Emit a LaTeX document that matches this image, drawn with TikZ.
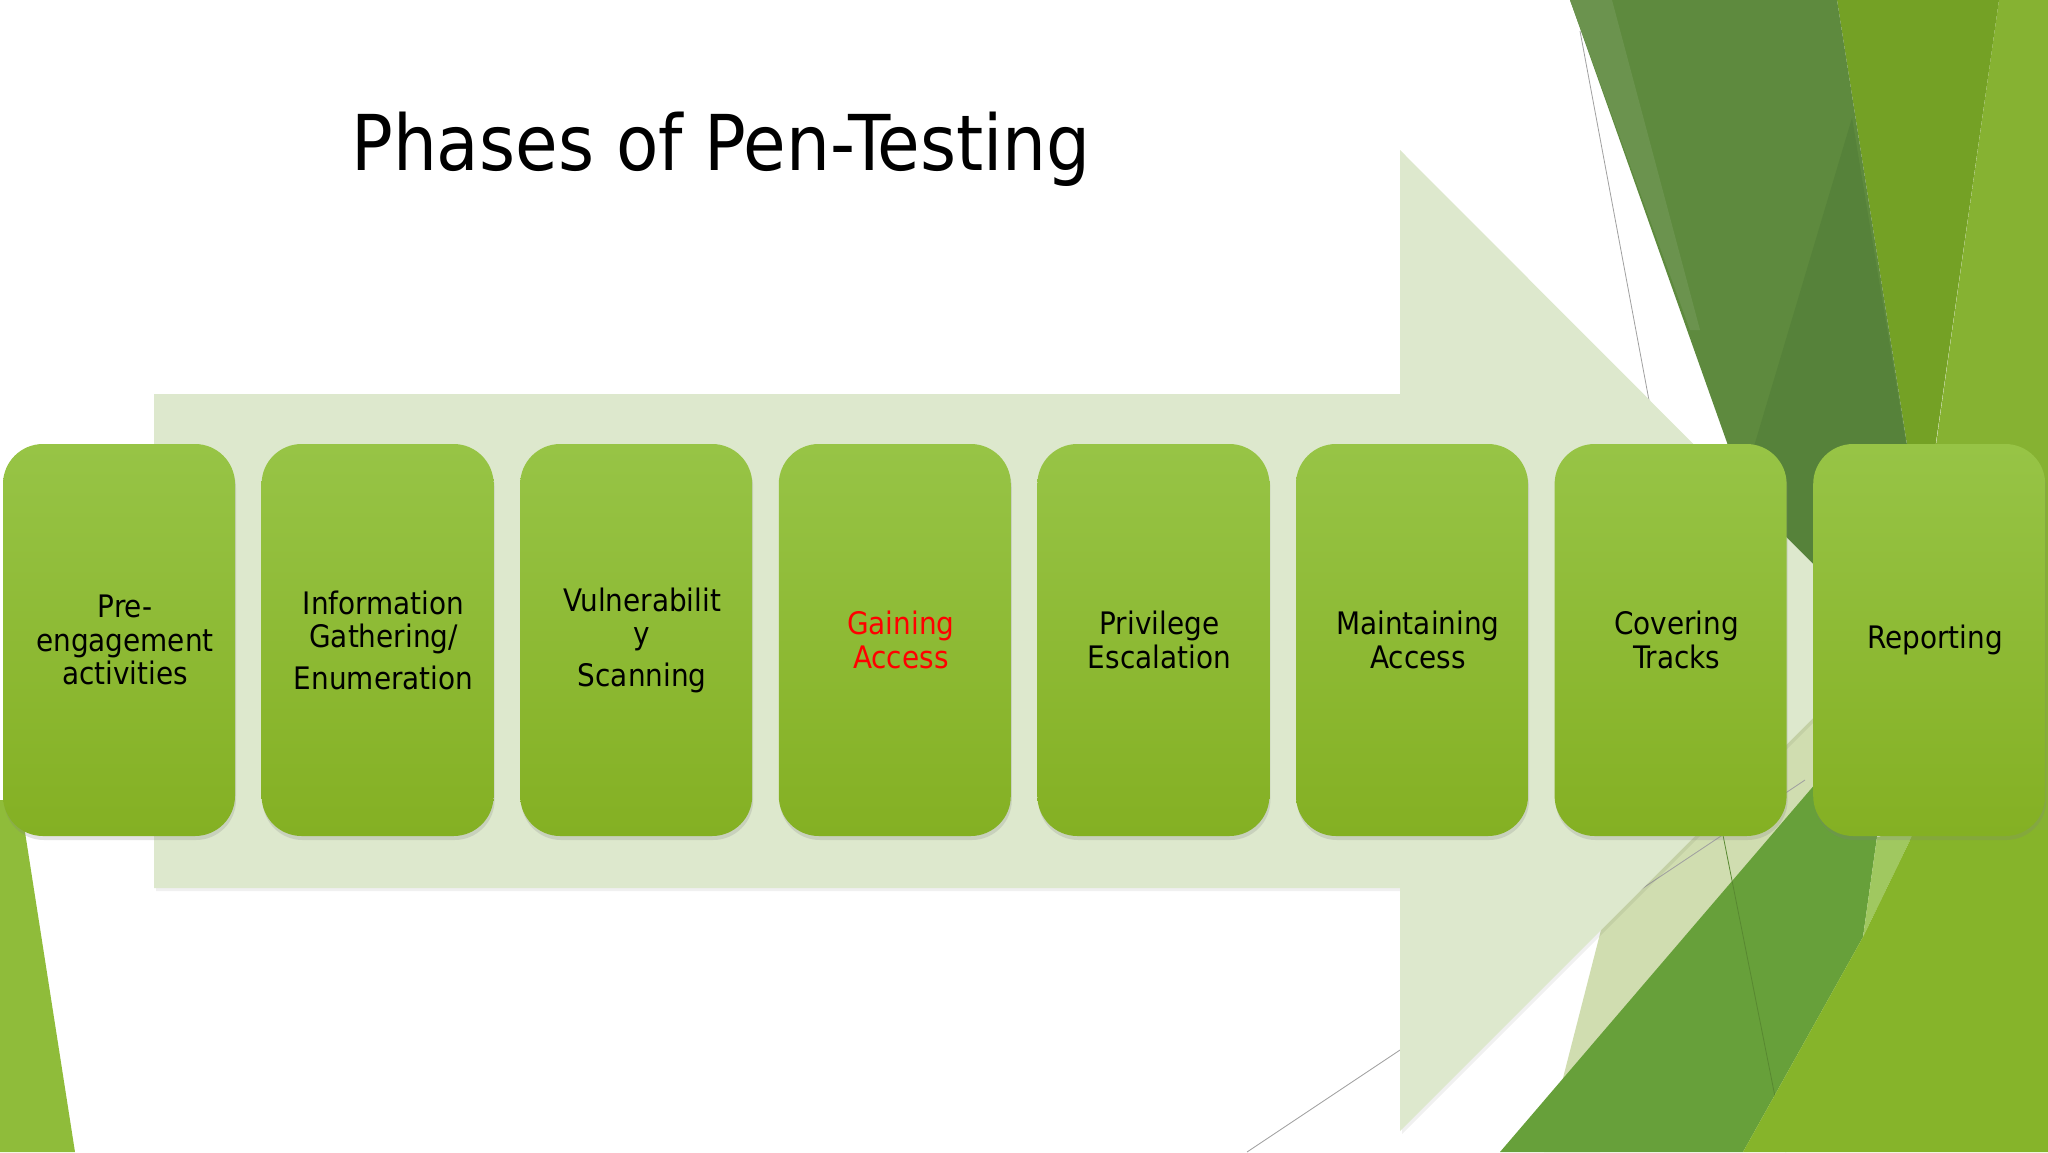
\documentclass[tikz,border=0pt]{standalone}
\usepackage{fontspec}
\setmainfont{DejaVu Sans Condensed}
\usetikzlibrary{shadows}
\definecolor{palearrow}{HTML}{DDE8CD}
\definecolor{darkg}{HTML}{5E8A3E}
\definecolor{darkerg}{HTML}{56823A}
\definecolor{oliveg}{HTML}{74A125}
\definecolor{lightr}{HTML}{86B232}
\definecolor{medg}{HTML}{67A03A}
\definecolor{brightg}{HTML}{86B42A}
\definecolor{paleolive}{HTML}{D0DDB0}
\definecolor{sliverg}{HTML}{A0C860}
\definecolor{leftg}{HTML}{8FBC3A}
\definecolor{boxtop}{HTML}{97C446}
\definecolor{boxbot}{HTML}{84B023}
\definecolor{thinl}{HTML}{A0A0A0}
\tikzset{
  phase/.style={rounded corners=40, minimum width=232, minimum height=392,
    top color=boxtop, bottom color=boxbot, inner sep=0pt,
    drop shadow={opacity=0.22, shadow xshift=1pt, shadow yshift=-4pt}},
  phasetext/.style={align=center, inner sep=0pt, xshift=6pt,
    font=\fontsize{31}{33.5}\selectfont, text=black},
  deco/.style={line width=0.8pt, draw=thinl}
}
\begin{document}
\begin{tikzpicture}[x=1pt,y=-1pt]
\useasboundingbox (0,0) rectangle (2048,1152);
\fill[white] (0,0) rectangle (2048,1152);
% top-right decoration
\fill[lightr] (1999,0) -- (2048,0) -- (2048,840) -- (1880,840) -- cycle;
\fill[oliveg] (1837,0) -- (1999,0) -- (1922,540) -- cycle;
\fill[darkg] (1570,0) -- (1837,0) -- (1922,540) -- (1870,660) -- (1797,640) -- cycle;
\fill[darkg!92!white] (1570,0) -- (1612,0) -- (1700,330) -- (1690,330) -- cycle;
\fill[darkerg] (1852,118) -- (1922,540) -- (1870,660) -- (1797,640) -- (1735,510) -- cycle;
\coordinate (tl1) at (1580,31);
\coordinate (tl2) at (1662,470);
\draw[deco] (tl1) -- (tl2);
% bottom-right decoration
\fill[paleolive] (1660,700) -- (1900,700) -- (1600,1152) -- (1544,1152) -- cycle;
\coordinate (bl1) at (1247,1152);
\coordinate (bl2) at (1805,780);
\draw[deco] (bl1) -- (bl2);
\fill[medg] (1500,1152) -- (1870,720) -- (1890,720) -- (1877,837) -- (1863,937) -- (1743,1152) -- cycle;
\coordinate (vl1) at (1716,800);
\coordinate (vl2) at (1786,1152);
\draw[line width=0.8pt, draw=medg!85!black] (vl1) -- (vl2);
\fill[sliverg] (1877,837) -- (1915,830) -- (1863,937) -- cycle;
\fill[brightg] (1743,1152) -- (1863,937) -- (1915,830) -- (2048,830) -- (2048,1152) -- cycle;
% left sliver
\fill[leftg] (0,800) -- (20,800) -- (75,1152) -- (0,1152) -- cycle;
% big arrow
\fill[black, opacity=0.06] (156,397) -- (1402,397) -- (1402,153) -- (1892,644) -- (1402,1134) -- (1402,891) -- (156,891) -- cycle;
\fill[palearrow] (154,394) -- (1400,394) -- (1400,150) -- (1890,641) -- (1400,1131) -- (1400,888) -- (154,888) -- cycle;
% title
\node[font=\fontsize{77}{92}\selectfont, anchor=base] (title) at (721,170) {Phases of Pen-Testing};
% phase boxes
\node[phase] (p1) at (119,640) {};
\node[phase] (p2) at (377.6,640) {};
\node[phase] (p3) at (636.2,640) {};
\node[phase] (p4) at (894.8,640) {};
\node[phase] (p5) at (1153.4,640) {};
\node[phase] (p6) at (1412,640) {};
\node[phase] (p7) at (1670.6,640) {};
\node[phase] (p8) at (1929.2,640) {};
% phase texts
\node[phasetext] (t1) at (p1.center) {Pre-\\engagement\\activities};
\node[phasetext] (t2) at (p2.center) {Information\\Gathering/\\[8pt]Enumeration};
\node[phasetext] (t3) at (p3.center) {Vulnerabilit\\y\\[8pt]Scanning};
\node[phasetext, text=red] (t4) at (p4.center) {Gaining\\Access};
\node[phasetext] (t5) at (p5.center) {Privilege\\Escalation};
\node[phasetext] (t6) at (p6.center) {Maintaining\\Access};
\node[phasetext] (t7) at (p7.center) {Covering\\Tracks};
\node[phasetext] (t8) at (p8.center) {Reporting};
\end{tikzpicture}
\end{document}
